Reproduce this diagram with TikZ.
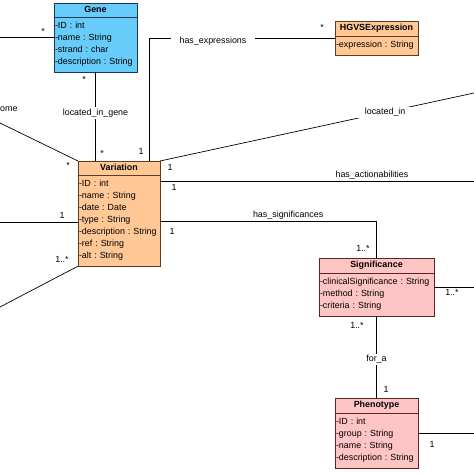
\documentclass[tikz,border=0pt]{standalone}
\usepackage{fontspec}
\setmainfont{Liberation Sans}
\usetikzlibrary{shapes.multipart}

\definecolor{genefill}{RGB}{104,204,250}
\definecolor{genedraw}{RGB}{30,55,85}
\definecolor{varfill}{RGB}{255,200,150}
\definecolor{vardraw}{RGB}{95,60,30}
\definecolor{sigfill}{RGB}{255,196,196}
\definecolor{sigdraw}{RGB}{85,40,40}

% paddings inside the class boxes
\newcommand{\headpad}{\rule[-0.8pt]{0pt}{7.2pt}}
\newcommand{\toppad}{\raggedright\rule{0pt}{8.3pt}}
\newcommand{\botpad}{\rule[-3.8pt]{0pt}{3.8pt}}

\begin{document}
\begin{tikzpicture}[x=1pt,y=-1pt,
  font=\fontsize{8.9}{12}\selectfont\frenchspacing,
  classbox/.style={draw, line width=0.9pt, rectangle split, rectangle split parts=2,
    anchor=north west, outer sep=0pt, inner xsep=1pt, inner ysep=3pt,
    text width=#1},
  assoc/.style={line width=0.7pt},
  rolename/.style={fill=white, inner xsep=9pt, inner ysep=1.5pt},
  mult/.style={anchor=base, inner sep=0pt}]
\useasboundingbox (0,0) rectangle (474,474);

% classes
\node[classbox=81pt, fill=genefill, draw=genedraw] (gene) at (54,3)
  {\centering\textbf{Gene}\headpad\par
   \nodepart{second}\toppad-ID : int\\-name : String\\-strand : char\\-description : String\botpad};
\node[classbox=81pt, fill=varfill, draw=vardraw] (hgvs) at (335,21)
  {\centering\textbf{HGVSExpression}\headpad\par
   \nodepart{second}\toppad-expression : String\botpad};
\node[classbox=80pt, fill=varfill, draw=vardraw] (variation) at (78,161)
  {\centering\textbf{Variation}\headpad\par
   \nodepart{second}\toppad-ID : int\\-name : String\\-date : Date\\-type : String\\-description : String\\-ref : String\\-alt : String\botpad};
\node[classbox=113pt, fill=sigfill, draw=sigdraw] (significance) at (319,258)
  {\centering\textbf{Significance}\headpad\par
   \nodepart{second}\toppad-clinicalSignificance : String\\-method : String\\-criteria : String\botpad};
\node[classbox=81pt, fill=sigfill, draw=sigdraw] (phenotype) at (335,398)
  {\centering\textbf{Phenotype}\headpad\par
   \nodepart{second}\toppad-ID : int\\-group : String\\-name : String\\-description : String\botpad};

% free ends at the picture border
\coordinate (lefte) at (0,0);
\coordinate (righte) at (474,0);
\coordinate (locend) at (474,93);
\coordinate (actend) at (474,181);
\coordinate (sigrow) at (0,221);
\coordinate (chromend) at (0,123);
\coordinate (midend) at (0,222);
\coordinate (lowend) at (0,307);

% associations
\draw[assoc] (gene.west) -- (gene.west -| lefte);
\draw[assoc] (gene.south) -- node[rolename, pos=0.46, inner xsep=1pt, inner ysep=2pt] (lig) {located\_in\_gene} (gene.south |- variation.north);
\draw[assoc] ([xshift=-11pt]variation.north east) |- node[rolename, pos=0.672, yshift=-3pt] (hexp) {has\_expressions} (hgvs.west);
\draw[assoc] (variation.north east) -- node[rolename, pos=0.717] (loc) {located\_in} (locend);
\draw[assoc] (variation.east |- actend) -- node[above, inner sep=1.5pt, pos=0.675] (hact) {has\_actionabilities} (actend);
\draw[assoc] (variation.east |- sigrow) -| node[above, inner sep=1.5pt, pos=0.296] (hsig) {has\_significances} (significance.north);
\draw[assoc] (significance.east) -- (significance.east -| righte);
\draw[assoc] (significance.south) -- node[rolename, pos=0.53, inner xsep=1pt] (fora) {for\_a} (phenotype.north);
\draw[assoc] (phenotype.east) -- (phenotype.east -| righte);
\draw[assoc] (variation.north west) -- (chromend);
\draw[assoc] (variation.west |- midend) -- (midend);
\draw[assoc] (variation.south west) -- (lowend);
\node[anchor=west, inner sep=0pt] (chromtxt) at (0,109) {ome};

% multiplicities
\node[mult] (m1) at (43,34) {*};
\node[mult] (m2) at (84,82) {*};
\node[mult] (m3) at (102,156) {*};
\node[mult] (m4) at (141,154) {1};
\node[mult] (m5) at (322,30) {*};
\node[mult] (m6) at (170,170) {1};
\node[mult] (m7) at (174,190) {1};
\node[mult] (m8) at (172,234) {1};
\node[mult] (m9) at (363,251) {1..*};
\node[mult] (m10) at (452,295) {1..*};
\node[mult] (m11) at (357,328) {1..*};
\node[mult] (m12) at (386,392) {1};
\node[mult] (m13) at (432,447) {1};
\node[mult] (m14) at (68,168) {*};
\node[mult] (m15) at (62,218) {1};
\node[mult] (m16) at (62,262) {1..*};
\end{tikzpicture}
\end{document}
